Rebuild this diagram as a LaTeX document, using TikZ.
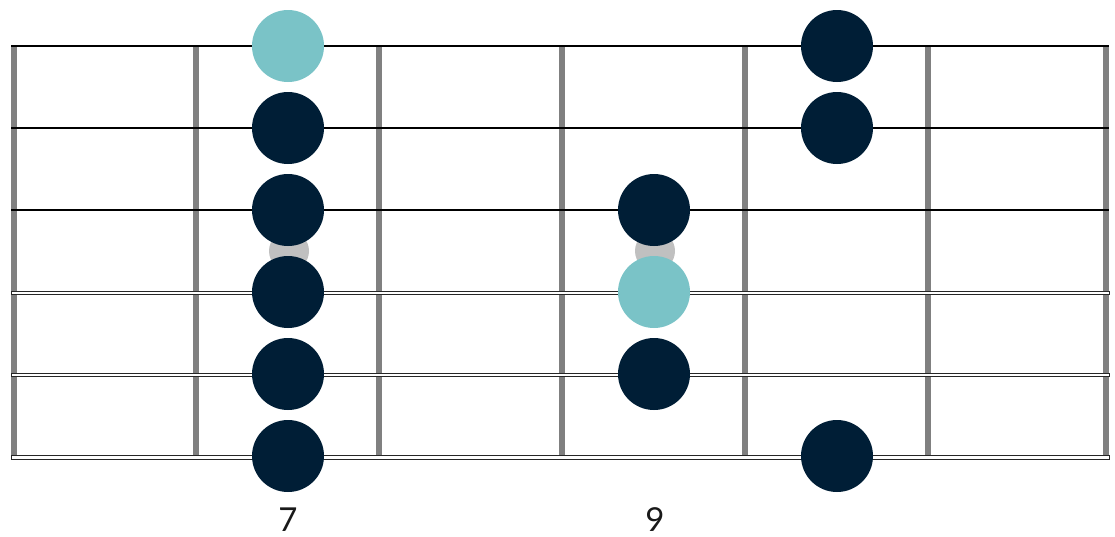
\documentclass[tikz,border=0pt]{standalone}
\usepackage{fontspec}
\setmainfont{Lato}
\definecolor{navy}{HTML}{001E36}
\definecolor{teal}{HTML}{7AC3C7}
\definecolor{fretgray}{HTML}{808080}
\definecolor{inlay}{HTML}{C0C0C0}
\tikzset{
  fretline/.style={fretgray, line width=6pt},
  thinstring/.style={black, line width=1.2pt},
  thickstring/.style={draw=black!85, fill=white, line width=1pt},
  notedot/.style={circle, fill=navy, minimum size=72pt, inner sep=0pt},
  rootdot/.style={circle, fill=teal, minimum size=72pt, inner sep=0pt},
  inlaydot/.style={circle, fill=inlay, minimum size=40pt, inner sep=0pt},
  fretnum/.style={font=\fontsize{33}{33}\selectfont, text=black!90, inner sep=0pt}
}
\begin{document}
\begin{tikzpicture}[x=1pt,y=-1pt]
\useasboundingbox (0,0) rectangle (1115,536);
% frets
\foreach \x in {14,196,379,562,745,928,1106}
  \draw[fretline] (\x,46) -- (\x,457);
% thin strings
\foreach \y in {46,128,210}
  \draw[thinstring] (11,\y) -- (1109,\y);
% thick strings
\draw[thickstring] (11,291) rectangle (1109,294);
\draw[thickstring] (11,373) rectangle (1109,376.5);
\draw[thickstring] (11,455) rectangle (1109,459.5);
% inlays
\node[inlaydot] (i1) at (289,251) {};
\node[inlaydot] (i2) at (655,251) {};
% fret 7
\node[rootdot] (a1) at (288,46) {};
\node[notedot] (a2) at (288,128) {};
\node[notedot] (a3) at (288,210) {};
\node[notedot] (a4) at (288,292) {};
\node[notedot] (a5) at (288,374) {};
\node[notedot] (a6) at (288,456) {};
% fret 9
\node[notedot] (b3) at (654,210) {};
\node[rootdot] (b4) at (654,292) {};
\node[notedot] (b5) at (654,374) {};
% fret 10
\node[notedot] (c1) at (837,46) {};
\node[notedot] (c2) at (837,128) {};
\node[notedot] (c6) at (837,456) {};
% fret numbers
\node[fretnum] (n7) at (288,520) {7};
\node[fretnum] (n9) at (655,520) {9};
\end{tikzpicture}
\end{document}
